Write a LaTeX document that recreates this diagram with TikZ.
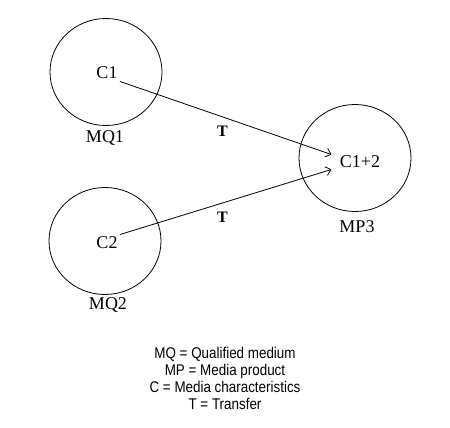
\documentclass[tikz,border=0pt]{standalone}
\usepackage{fontspec}
\setmainfont{Liberation Serif}
\newfontfamily\legendfont[FakeStretch=0.865]{Liberation Sans}
\usetikzlibrary{shapes.geometric, arrows.meta}

\begin{document}
\begin{tikzpicture}[x=1pt, y=-1pt, line width=0.8pt, medium/.style={ellipse, draw=black, line width=0.8pt, minimum width=112, minimum height=107, inner sep=0}, txt/.style={inner sep=#1, node font=\fontsize{18}{21}\selectfont}, txt/.default=2, arrownode/.style={pos=0.485, #1, inner sep=0, node font=\fontsize{16}{19}\selectfont\bfseries}, arrownode/.default={below=9}]

\useasboundingbox (0,0) rectangle (450,428);

\node [medium] (MQ1) at (106, 72) {};
\node [medium] (MQ2) at (105, 241) {};
\node [medium] (MP3) at (355, 158) {};

\node [txt] (C1) at (107, 73) {C1};
\node [txt] (C2) at (107, 243) {C2};
\node [txt, inner xsep=8, inner ysep=1] (C12) at (360, 162) {C1+2};

\node [txt] (MQ1name) at (105, 138) {MQ1};
\node [txt] (MQ2name) at (108, 305) {MQ2};
\node [txt] (MP3name) at (357, 227) {MP3};

\draw[-{Straight Barb[length=5pt, width=9pt]}] (C1.south east) -- (C12.north west) node [arrownode] {T};
\draw[-{Straight Barb[length=5pt, width=9pt]}] (C2.north east) -- (C12.south west) node [arrownode] {T};

\node [align=center, inner sep=0, node font=\legendfont\fontsize{15.5}{17}\selectfont] (legend) at (225, 378) {MQ = Qualified medium\\MP = Media product\\C = Media characteristics\\T = Transfer};

\end{tikzpicture}
\end{document}
